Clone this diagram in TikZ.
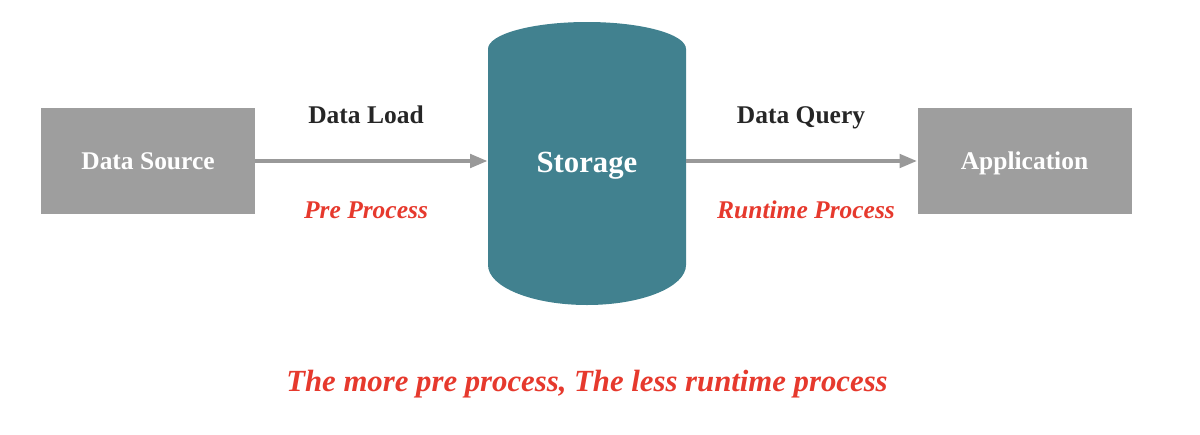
\documentclass[tikz,border=0pt]{standalone}
\usepackage{fontspec}
\setmainfont{Liberation Serif}
\usetikzlibrary{arrows.meta}
\definecolor{boxgray}{RGB}{158,158,158}
\definecolor{arrowgray}{RGB}{153,153,153}
\definecolor{storeteal}{RGB}{65,129,143}
\definecolor{notered}{RGB}{230,57,45}
\definecolor{labeldark}{RGB}{38,38,38}

\begin{document}
\begin{tikzpicture}[
  procbox/.style={rectangle, fill=boxgray, minimum width=4.28cm, minimum height=2.12cm, text height=10.2pt, text depth=0pt, text=white, font=\fontsize{14.5}{16}\selectfont\bfseries},
  storelabel/.style={minimum width=3.96cm, minimum height=3cm, text height=13.6pt, text depth=0pt, text=white, font=\fontsize{17.5}{20}\selectfont\bfseries},
  steplabel/.style={anchor=base, text=labeldark, font=\fontsize{14.5}{16}\selectfont\bfseries},
  proclabel/.style={anchor=base, text=notered, font=\fontsize{14.5}{16}\selectfont\bfseries\itshape},
  arrow/.style={-{Triangle[length=10pt,width=7.5pt]}, line width=2.3pt, color=arrowgray}
]
\useasboundingbox (0,0) rectangle (24,8.68);

% Storage cylinder
\fill[storeteal] (9.76,7.70) arc (180:0:1.98 and 0.54) -- (13.72,3.38) arc (0:-180:1.98 and 0.80) -- cycle;

% Three stages
\node[procbox] (src) at (2.96,5.46) {Data Source};
\node[storelabel] (store) at (11.74,5.46) {Storage};
\node[procbox] (app) at (20.49,5.46) {Application};

% Flow arrows
\draw[arrow] (src) -- (store);
\draw[arrow] (store) -- (app);

% Labels on the arrows
\node[steplabel] (load) at (7.32,6.22) {Data Load};
\node[proclabel] (pre) at (7.32,4.32) {Pre Process};
\node[steplabel] (query) at (16.02,6.22) {Data Query};
\node[proclabel] (run) at (16.12,4.32) {Runtime Process};

% Bottom note
\node[anchor=base, text=notered, font=\fontsize{17.5}{20}\selectfont\bfseries\itshape] (note) at (11.74,0.86) {The more pre process, The less runtime process};

\end{tikzpicture}
\end{document}
